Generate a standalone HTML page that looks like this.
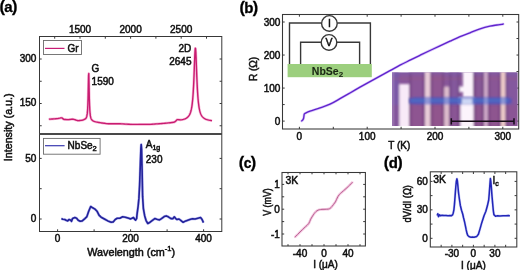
<!DOCTYPE html>
<html><head><meta charset="utf-8"><style>
html,body{margin:0;padding:0;background:#fff;}
body{width:520px;height:270px;overflow:hidden;}
svg{display:block;font-family:'Liberation Sans', Arial, Helvetica, sans-serif;}
</style></head><body>
<svg width="520" height="270" viewBox="0 0 520 270">
<defs><filter id="soft" x="0" y="0" width="100%" height="100%"><feGaussianBlur stdDeviation="0.33"/></filter></defs>
<rect width="520" height="270" fill="#fff"/>
<g filter="url(#soft)">
<text x="-0.6" y="11.6" font-size="16.3" font-weight="bold" fill="#000" stroke="#000" stroke-width="0.3" letter-spacing="-0.6"><tspan>(</tspan><tspan font-size="15">a</tspan><tspan>)</tspan></text>
<rect x="39.5" y="36.5" width="182.3" height="97" fill="none" stroke="#383838" stroke-width="1"/>
<rect x="39.5" y="134.5" width="182.3" height="97" fill="none" stroke="#383838" stroke-width="1"/>
<path d="M39.5,134H221.8" stroke="#505050" stroke-width="1.6"/>
<path d="M54.7,36.5v2.2M80,36.5v2.2M105.3,36.5v2.2M130.6,36.5v2.2M155.9,36.5v2.2M181.2,36.5v2.2M206.5,36.5v2.2" stroke="#383838" stroke-width="1" fill="none"/>
<text x="80" y="33" font-size="10" text-anchor="middle" font-weight="normal" fill="#111" stroke="#111" stroke-width="0.5" >1500</text>
<text x="130.6" y="33" font-size="10" text-anchor="middle" font-weight="normal" fill="#111" stroke="#111" stroke-width="0.5" >2000</text>
<text x="181.2" y="33" font-size="10" text-anchor="middle" font-weight="normal" fill="#111" stroke="#111" stroke-width="0.5" >2500</text>
<path d="M39.5,59h2.2M221.8,59h-2.2M39.5,81.25h2.2M221.8,81.25h-2.2M39.5,103.5h2.2M221.8,103.5h-2.2M39.5,125.75h2.2M221.8,125.75h-2.2" stroke="#383838" stroke-width="1" fill="none"/>
<text x="36.4" y="61.9" font-size="10" text-anchor="end" font-weight="normal" fill="#111" stroke="#111" stroke-width="0.5" >300</text>
<text x="36.4" y="106.3" font-size="10" text-anchor="end" font-weight="normal" fill="#111" stroke="#111" stroke-width="0.5" >150</text>
<rect x="43.5" y="40.5" width="38" height="14" fill="#fff" stroke="#6a6a6a" stroke-width="0.9"/>
<path d="M45,48.4H64.5" stroke="#c81d74" stroke-width="1.2"/>
<text x="67.5" y="51.6" font-size="10" text-anchor="start" font-weight="normal" fill="#111" stroke="#111" stroke-width="0.5" >Gr</text>
<path d="M48.8,119.18 L49.8,119.13 L50.8,119.08 L51.8,119.03 L52.8,118.98 L53.8,118.91 L54.8,118.82 L55.8,118.73 L56.8,118.65 L57.8,118.55 L58.8,118.38 L59.8,118.2 L60.8,117.92 L61.8,117.82 L62.8,118.6 L63.8,119.38 L64.8,119.5 L65.8,119.54 L66.8,119.58 L67.8,119.62 L68.8,119.58 L69.8,119.47 L70.8,119.35 L71.8,119.23 L72.8,119.15 L73.8,119.43 L74.8,119.72 L75.8,120.02 L76.8,120.35 L77.8,120.67 L78.8,120.65 L79.8,120.54 L80.8,120.42 L81.8,120.26 L82.8,120.05 L83.8,119.71 L84.8,119.19 L85.05,119 L85.3,118.85 L85.55,118.66 L85.8,118.42 L86.05,118.09 L86.3,117.65 L86.55,117.05 L86.8,116.2 L87.05,114.97 L87.3,113.15 L87.55,110.33 L87.8,105.81 L88.05,98.42 L88.3,87.14 L88.55,75.04 L88.8,73.53 L89.05,84.65 L89.3,96.7 L89.55,104.92 L89.8,110 L90.05,113.19 L90.3,115.27 L90.55,116.68 L90.8,117.69 L91.05,118.43 L91.3,118.99 L91.55,119.43 L91.8,119.79 L92.05,120.08 L92.3,120.32 L92.55,120.52 L92.8,120.7 L93.05,120.86 L94.05,121.32 L95.05,121.64 L96.05,121.9 L97.05,122.12 L98.05,122.32 L99.05,122.5 L100.05,122.66 L101.05,122.82 L102.05,122.97 L103.05,123.12 L104.05,123.27 L105.05,123.41 L106.05,123.56 L107.05,123.7 L108.05,123.72 L109.05,123.73 L110.05,123.73 L111.05,123.73 L112.05,123.74 L113.05,123.74 L114.05,123.74 L115.05,123.74 L116.05,123.74 L117.05,123.74 L118.05,123.74 L119.05,123.74 L120.05,123.77 L121.05,123.82 L122.05,123.88 L123.05,123.94 L124.05,123.99 L125.05,124.05 L126.05,124.11 L127.05,124.16 L128.05,124.22 L129.05,124.27 L130.05,124.33 L131.05,124.38 L132.05,124.44 L133.05,124.43 L134.05,124.43 L135.05,124.43 L136.05,124.43 L137.05,124.43 L138.05,124.43 L139.05,124.42 L140.05,124.42 L141.05,124.42 L142.05,124.42 L143.05,124.41 L144.05,124.41 L145.05,124.41 L146.05,124.4 L147.05,124.4 L148.05,124.4 L149.05,124.39 L150.05,124.36 L151.05,124.3 L152.05,124.23 L153.05,124.16 L154.05,124.09 L155.05,124.02 L156.05,123.95 L157.05,123.88 L158.05,123.8 L159.05,123.73 L160.05,123.66 L161.05,123.58 L162.05,123.51 L163.05,123.43 L164.05,123.35 L165.05,123.25 L166.05,123.15 L167.05,123.05 L168.05,122.94 L169.05,122.84 L170.05,122.73 L171.05,122.61 L172.05,122.5 L173.05,122.38 L174.05,122.25 L175.05,121.7 L176.05,120.82 L177.05,119.6 L178.05,119.65 L179.05,119.75 L180.05,119.84 L181.05,119.83 L182.05,119.67 L183.05,119.47 L184.05,119.21 L185.05,118.87 L186.05,118.34 L186.3,118.18 L186.55,118.01 L186.8,117.83 L187.05,117.63 L187.3,117.42 L187.55,117.2 L187.8,116.95 L188.05,116.69 L188.3,116.44 L188.55,116.15 L188.8,115.84 L189.05,115.49 L189.3,115.1 L189.55,114.66 L189.8,114.17 L190.05,113.62 L190.3,112.99 L190.55,112.28 L190.8,111.47 L191.05,110.54 L191.3,109.47 L191.55,108.23 L191.8,106.78 L192.05,105.1 L192.3,103.12 L192.55,100.79 L192.8,98.03 L193.05,94.76 L193.3,90.9 L193.55,86.37 L193.8,81.1 L194.05,75.12 L194.3,68.58 L194.55,61.87 L194.8,55.64 L195.05,50.79 L195.3,48.23 L195.55,48.53 L195.8,51.62 L196.05,56.84 L196.3,63.25 L196.55,69.98 L196.8,76.44 L197.05,82.3 L197.3,87.43 L197.55,91.84 L197.8,95.59 L198.05,98.76 L198.3,101.44 L198.55,103.71 L198.8,105.64 L199.05,107.29 L199.3,108.7 L199.55,109.92 L199.8,110.97 L200.05,111.89 L200.3,112.69 L200.55,113.4 L200.8,114.02 L201.05,114.57 L201.3,115.07 L201.55,115.51 L201.8,115.9 L202.05,116.26 L202.3,116.58 L202.55,116.87 L202.8,117.14 L203.05,117.38 L203.3,117.61 L203.55,117.82 L203.8,118.02 L204.05,118.2 L204.3,118.37 L204.55,118.52 L204.8,118.67 L205.05,118.81 L206.05,119.27 L207.05,119.62 L208.05,119.9 L209.05,120.13 L210.05,120.32 L211.05,120.48 L212.05,120.6" stroke="#f07ab4" stroke-width="2.6" fill="none" stroke-linejoin="round" opacity="0.55"/>
<path d="M48.8,119.18 L49.8,119.13 L50.8,119.08 L51.8,119.03 L52.8,118.98 L53.8,118.91 L54.8,118.82 L55.8,118.73 L56.8,118.65 L57.8,118.55 L58.8,118.38 L59.8,118.2 L60.8,117.92 L61.8,117.82 L62.8,118.6 L63.8,119.38 L64.8,119.5 L65.8,119.54 L66.8,119.58 L67.8,119.62 L68.8,119.58 L69.8,119.47 L70.8,119.35 L71.8,119.23 L72.8,119.15 L73.8,119.43 L74.8,119.72 L75.8,120.02 L76.8,120.35 L77.8,120.67 L78.8,120.65 L79.8,120.54 L80.8,120.42 L81.8,120.26 L82.8,120.05 L83.8,119.71 L84.8,119.19 L85.05,119 L85.3,118.85 L85.55,118.66 L85.8,118.42 L86.05,118.09 L86.3,117.65 L86.55,117.05 L86.8,116.2 L87.05,114.97 L87.3,113.15 L87.55,110.33 L87.8,105.81 L88.05,98.42 L88.3,87.14 L88.55,75.04 L88.8,73.53 L89.05,84.65 L89.3,96.7 L89.55,104.92 L89.8,110 L90.05,113.19 L90.3,115.27 L90.55,116.68 L90.8,117.69 L91.05,118.43 L91.3,118.99 L91.55,119.43 L91.8,119.79 L92.05,120.08 L92.3,120.32 L92.55,120.52 L92.8,120.7 L93.05,120.86 L94.05,121.32 L95.05,121.64 L96.05,121.9 L97.05,122.12 L98.05,122.32 L99.05,122.5 L100.05,122.66 L101.05,122.82 L102.05,122.97 L103.05,123.12 L104.05,123.27 L105.05,123.41 L106.05,123.56 L107.05,123.7 L108.05,123.72 L109.05,123.73 L110.05,123.73 L111.05,123.73 L112.05,123.74 L113.05,123.74 L114.05,123.74 L115.05,123.74 L116.05,123.74 L117.05,123.74 L118.05,123.74 L119.05,123.74 L120.05,123.77 L121.05,123.82 L122.05,123.88 L123.05,123.94 L124.05,123.99 L125.05,124.05 L126.05,124.11 L127.05,124.16 L128.05,124.22 L129.05,124.27 L130.05,124.33 L131.05,124.38 L132.05,124.44 L133.05,124.43 L134.05,124.43 L135.05,124.43 L136.05,124.43 L137.05,124.43 L138.05,124.43 L139.05,124.42 L140.05,124.42 L141.05,124.42 L142.05,124.42 L143.05,124.41 L144.05,124.41 L145.05,124.41 L146.05,124.4 L147.05,124.4 L148.05,124.4 L149.05,124.39 L150.05,124.36 L151.05,124.3 L152.05,124.23 L153.05,124.16 L154.05,124.09 L155.05,124.02 L156.05,123.95 L157.05,123.88 L158.05,123.8 L159.05,123.73 L160.05,123.66 L161.05,123.58 L162.05,123.51 L163.05,123.43 L164.05,123.35 L165.05,123.25 L166.05,123.15 L167.05,123.05 L168.05,122.94 L169.05,122.84 L170.05,122.73 L171.05,122.61 L172.05,122.5 L173.05,122.38 L174.05,122.25 L175.05,121.7 L176.05,120.82 L177.05,119.6 L178.05,119.65 L179.05,119.75 L180.05,119.84 L181.05,119.83 L182.05,119.67 L183.05,119.47 L184.05,119.21 L185.05,118.87 L186.05,118.34 L186.3,118.18 L186.55,118.01 L186.8,117.83 L187.05,117.63 L187.3,117.42 L187.55,117.2 L187.8,116.95 L188.05,116.69 L188.3,116.44 L188.55,116.15 L188.8,115.84 L189.05,115.49 L189.3,115.1 L189.55,114.66 L189.8,114.17 L190.05,113.62 L190.3,112.99 L190.55,112.28 L190.8,111.47 L191.05,110.54 L191.3,109.47 L191.55,108.23 L191.8,106.78 L192.05,105.1 L192.3,103.12 L192.55,100.79 L192.8,98.03 L193.05,94.76 L193.3,90.9 L193.55,86.37 L193.8,81.1 L194.05,75.12 L194.3,68.58 L194.55,61.87 L194.8,55.64 L195.05,50.79 L195.3,48.23 L195.55,48.53 L195.8,51.62 L196.05,56.84 L196.3,63.25 L196.55,69.98 L196.8,76.44 L197.05,82.3 L197.3,87.43 L197.55,91.84 L197.8,95.59 L198.05,98.76 L198.3,101.44 L198.55,103.71 L198.8,105.64 L199.05,107.29 L199.3,108.7 L199.55,109.92 L199.8,110.97 L200.05,111.89 L200.3,112.69 L200.55,113.4 L200.8,114.02 L201.05,114.57 L201.3,115.07 L201.55,115.51 L201.8,115.9 L202.05,116.26 L202.3,116.58 L202.55,116.87 L202.8,117.14 L203.05,117.38 L203.3,117.61 L203.55,117.82 L203.8,118.02 L204.05,118.2 L204.3,118.37 L204.55,118.52 L204.8,118.67 L205.05,118.81 L206.05,119.27 L207.05,119.62 L208.05,119.9 L209.05,120.13 L210.05,120.32 L211.05,120.48 L212.05,120.6" stroke="#c81a70" stroke-width="1.35" fill="none" stroke-linejoin="round"/>
<text x="91.6" y="71.6" font-size="10" text-anchor="start" font-weight="normal" fill="#111" stroke="#111" stroke-width="0.5" >G</text>
<text x="91.6" y="84.8" font-size="10" text-anchor="start" font-weight="normal" fill="#111" stroke="#111" stroke-width="0.5" >1590</text>
<text x="191.3" y="52.2" font-size="10" text-anchor="end" font-weight="normal" fill="#111" stroke="#111" stroke-width="0.5" >2D</text>
<text x="191.5" y="65.3" font-size="10" text-anchor="end" font-weight="normal" fill="#111" stroke="#111" stroke-width="0.5" >2645</text>
<path d="M57.6,231.5v-2.2M94.1,231.5v-2.2M130.6,231.5v-2.2M167.1,231.5v-2.2M203.6,231.5v-2.2" stroke="#383838" stroke-width="1" fill="none"/>
<text x="57.6" y="242.2" font-size="10" text-anchor="middle" font-weight="normal" fill="#111" stroke="#111" stroke-width="0.5" >0</text>
<text x="130.6" y="242.2" font-size="10" text-anchor="middle" font-weight="normal" fill="#111" stroke="#111" stroke-width="0.5" >200</text>
<text x="203.6" y="242.2" font-size="10" text-anchor="middle" font-weight="normal" fill="#111" stroke="#111" stroke-width="0.5" >400</text>
<path d="M39.5,219h2.2M221.8,219h-2.2M39.5,188.7h2.2M221.8,188.7h-2.2M39.5,158.4h2.2M221.8,158.4h-2.2" stroke="#383838" stroke-width="1" fill="none"/>
<text x="36.4" y="222" font-size="10" text-anchor="end" font-weight="normal" fill="#111" stroke="#111" stroke-width="0.5" >0</text>
<text x="36.4" y="161.6" font-size="10" text-anchor="end" font-weight="normal" fill="#111" stroke="#111" stroke-width="0.5" >50</text>
<rect x="43.5" y="138.4" width="56.6" height="15.8" fill="#fff" stroke="#6a6a6a" stroke-width="0.9"/>
<path d="M45,145.7H64.6" stroke="#3a3ab0" stroke-width="1.2"/>
<text x="67.6" y="149.2" font-size="10" text-anchor="start" font-weight="normal" fill="#111" stroke="#111" stroke-width="0.5" >NbSe<tspan font-size="7.6" dy="2.2">2</tspan></text>
<path d="M61.4,218.6 L62.7,219.2 L64.7,219.5 L66.1,220.3 L67.7,220.9 L69,219.5 L70.8,220.3 L71.5,221.3 L72.5,218.6 L74.8,217.6 L76.6,218.2 L78.2,220.3 L80.2,221.3 L82.2,220.9 L84.9,218.6 L86.9,216.6 L88.7,211.2 L90.7,206.5 L92.7,207.8 L95,209.1 L97,211.2 L99,215.2 L101.1,217.2 L104.4,219 L107.8,220.9 L111.2,222.2 L113.2,221.9 L115.2,219.5 L117.2,218.3 L119.9,218.2 L122.6,216.8 L125.3,217.2 L128.8,218.3 L130.4,218.9 L131.9,218.3 L133.5,217.5 L134.5,219.1 L135.6,220.1 L136.6,218.6 L137.1,213.9 L138.2,205.6 L138.9,198.4 L139.6,185.4 L140.3,165.4 L140.9,148.4 L141.2,144.6 L141.6,149.4 L142.1,170.4 L142.6,196.4 L143.4,208.7 L144.7,215.9 L146.1,220.6 L147.8,223.5 L150.1,222.2 L152.1,220.6 L154.8,218.6 L156.8,219.2 L159.5,219.9 L161.5,218.6 L164.2,216.6 L166.2,215.9 L168.3,216.8 L171,218.6 L173,218.6 L174.3,216.8 L175.7,218.6 L177,219.5 L179,219 L181,220.6 L183.1,222.3 L185.8,220.9 L189.8,219.6 L192.5,218.8 L195.2,219 L197.9,218.3 L200.6,217.6 L201.9,219.2 L203.5,222.6" stroke="#6a6ae0" stroke-width="2.6" fill="none" stroke-linejoin="round" opacity="0.5"/>
<path d="M61.4,218.6 L62.7,219.2 L64.7,219.5 L66.1,220.3 L67.7,220.9 L69,219.5 L70.8,220.3 L71.5,221.3 L72.5,218.6 L74.8,217.6 L76.6,218.2 L78.2,220.3 L80.2,221.3 L82.2,220.9 L84.9,218.6 L86.9,216.6 L88.7,211.2 L90.7,206.5 L92.7,207.8 L95,209.1 L97,211.2 L99,215.2 L101.1,217.2 L104.4,219 L107.8,220.9 L111.2,222.2 L113.2,221.9 L115.2,219.5 L117.2,218.3 L119.9,218.2 L122.6,216.8 L125.3,217.2 L128.8,218.3 L130.4,218.9 L131.9,218.3 L133.5,217.5 L134.5,219.1 L135.6,220.1 L136.6,218.6 L137.1,213.9 L138.2,205.6 L138.9,198.4 L139.6,185.4 L140.3,165.4 L140.9,148.4 L141.2,144.6 L141.6,149.4 L142.1,170.4 L142.6,196.4 L143.4,208.7 L144.7,215.9 L146.1,220.6 L147.8,223.5 L150.1,222.2 L152.1,220.6 L154.8,218.6 L156.8,219.2 L159.5,219.9 L161.5,218.6 L164.2,216.6 L166.2,215.9 L168.3,216.8 L171,218.6 L173,218.6 L174.3,216.8 L175.7,218.6 L177,219.5 L179,219 L181,220.6 L183.1,222.3 L185.8,220.9 L189.8,219.6 L192.5,218.8 L195.2,219 L197.9,218.3 L200.6,217.6 L201.9,219.2 L203.5,222.6" stroke="#22229a" stroke-width="1.6" fill="none" stroke-linejoin="round"/>
<text x="145.8" y="147.6" font-size="10" text-anchor="start" font-weight="normal" fill="#111" stroke="#111" stroke-width="0.5" >A<tspan font-size="7" dy="2.6">1g</tspan></text>
<text x="145.8" y="162.8" font-size="10" text-anchor="start" font-weight="normal" fill="#111" stroke="#111" stroke-width="0.5" >230</text>
<text x="131.2" y="255.5" font-size="10.8" text-anchor="middle" font-weight="normal" fill="#111" stroke="#111" stroke-width="0.5" >Wavelength (cm<tspan font-size="7.5" dy="-4.2">-1</tspan><tspan dy="4.2">)</tspan></text>
<text x="12.5" y="127.3" font-size="10.7" text-anchor="middle" font-weight="normal" fill="#111" stroke="#111" stroke-width="0.5" transform="rotate(-90 12.5 127.3)">Intensity (a.u.)</text>
<text x="239.4" y="12.8" font-size="16.3" font-weight="bold" fill="#000" stroke="#000" stroke-width="0.3" letter-spacing="-0.6"><tspan>(</tspan><tspan font-size="15">b</tspan><tspan>)</tspan></text>
<rect x="282.5" y="14.5" width="236.2" height="114.5" fill="none" stroke="#383838" stroke-width="1.05"/>
<path d="M299.4,129v-2.2M299.4,14.5v2.2M367.2,129v-2.2M367.2,14.5v2.2M401.1,129v-2.2M401.1,14.5v2.2M435,129v-2.2M435,14.5v2.2M468.9,129v-2.2M468.9,14.5v2.2M502.8,129v-2.2M502.8,14.5v2.2" stroke="#383838" stroke-width="1" fill="none"/>
<path d="M333.3,129v-2.2" stroke="#383838" stroke-width="1"/>
<path d="M282.5,121.1h2.2M518.7,121.1h-2.2M282.5,104.58h2.2M518.7,104.58h-2.2M282.5,88.07h2.2M518.7,88.07h-2.2M282.5,55.04h2.2M518.7,55.04h-2.2M282.5,22.01h2.2M518.7,22.01h-2.2" stroke="#383838" stroke-width="1" fill="none"/>
<path d="M518.7,71.56h-2.2" stroke="#383838" stroke-width="1"/>
<path d="M518.7,38.53h-2.2" stroke="#383838" stroke-width="1"/>
<text x="280.4" y="124.7" font-size="10" text-anchor="end" font-weight="normal" fill="#111" stroke="#111" stroke-width="0.5" >0</text>
<text x="280.4" y="91.67" font-size="10" text-anchor="end" font-weight="normal" fill="#111" stroke="#111" stroke-width="0.5" >100</text>
<text x="280.4" y="58.64" font-size="10" text-anchor="end" font-weight="normal" fill="#111" stroke="#111" stroke-width="0.5" >200</text>
<text x="280.4" y="25.61" font-size="10" text-anchor="end" font-weight="normal" fill="#111" stroke="#111" stroke-width="0.5" >300</text>
<text x="299.4" y="139.6" font-size="10" text-anchor="middle" font-weight="normal" fill="#111" stroke="#111" stroke-width="0.5" >0</text>
<text x="367.2" y="139.6" font-size="10" text-anchor="middle" font-weight="normal" fill="#111" stroke="#111" stroke-width="0.5" >100</text>
<text x="435" y="139.6" font-size="10" text-anchor="middle" font-weight="normal" fill="#111" stroke="#111" stroke-width="0.5" >200</text>
<text x="502.8" y="139.6" font-size="10" text-anchor="middle" font-weight="normal" fill="#111" stroke="#111" stroke-width="0.5" >300</text>
<text x="388.2" y="149.4" font-size="10" text-anchor="start" font-weight="normal" fill="#111" stroke="#111" stroke-width="0.5" >T (K)</text>
<text x="257" y="68.9" font-size="10" text-anchor="middle" font-weight="normal" fill="#111" stroke="#111" stroke-width="0.5" transform="rotate(-90 257 68.9)">R (Ω)</text>
<g stroke="#383838" stroke-width="1.4" fill="none"><path d="M289.5,64V23H321.6M337.2,23H370.4V64"/><path d="M300.6,64V42.2H321.2M336.8,42.2H359.6V64"/><circle cx="329.4" cy="23.4" r="7.8" fill="#fff"/><circle cx="329" cy="42.4" r="7.8" fill="#fff"/></g>
<text x="329.4" y="27.2" font-size="10.5" text-anchor="middle" font-weight="normal" fill="#111" stroke="#111" stroke-width="0.5" >I</text>
<text x="329" y="46.2" font-size="10.5" text-anchor="middle" font-weight="normal" fill="#111" stroke="#111" stroke-width="0.5" >V</text>
<rect x="287.6" y="64" width="84.2" height="13.2" fill="#9ccf7e"/>
<text x="327.5" y="74.6" font-size="10.5" text-anchor="middle" font-weight="bold" fill="#1a2614" stroke="#1a2614" stroke-width="0.1" >NbSe<tspan font-size="8" dy="2.2">2</tspan></text>
<defs>
<filter id="bl" x="-5%" y="-5%" width="110%" height="110%"><feGaussianBlur stdDeviation="1.05"/></filter>
<filter id="bl2" x="-20%" y="-80%" width="140%" height="260%"><feGaussianBlur stdDeviation="1.0"/></filter>
<clipPath id="cp"><rect x="392" y="72.6" width="125.4" height="53.4"/></clipPath>
</defs>
<g clip-path="url(#cp)">
<rect x="388" y="70" width="134" height="60" fill="#88589a"/>
<g filter="url(#bl)">
<rect x="388" y="70" width="11.2" height="60" fill="#7a58a6"/>
<rect x="409" y="70" width="15.5" height="60" fill="#8a5698"/>
<rect x="430" y="70" width="14.2" height="60" fill="#8e5692"/>
<rect x="449" y="70" width="11" height="60" fill="#84589c"/>
<rect x="473" y="70" width="11" height="60" fill="#885896"/>
<rect x="488" y="70" width="12.8" height="60" fill="#8a5696"/>
<rect x="505.5" y="70" width="14" height="60" fill="#84589e"/>
<rect x="388" y="105" width="134" height="25" fill="#985080" opacity="0.3"/>
<rect x="409.2" y="70" width="2.6" height="60" fill="#5e3470" opacity="0.35"/>
<rect x="422.4" y="70" width="2.4" height="60" fill="#5e3470" opacity="0.35"/>
<rect x="430.4" y="70" width="2.6" height="60" fill="#5e3470" opacity="0.35"/>
<rect x="441.8" y="70" width="2.4" height="60" fill="#5e3470" opacity="0.35"/>
<rect x="449.1" y="70" width="2.4" height="60" fill="#5e3470" opacity="0.35"/>
<rect x="457.2" y="70" width="2.4" height="60" fill="#5e3470" opacity="0.35"/>
<rect x="473.6" y="70" width="2.6" height="60" fill="#5e3470" opacity="0.35"/>
<rect x="481.6" y="70" width="2.4" height="60" fill="#5e3470" opacity="0.35"/>
<rect x="488" y="70" width="2.4" height="60" fill="#5e3470" opacity="0.35"/>
<rect x="498.4" y="70" width="2.4" height="60" fill="#5e3470" opacity="0.35"/>
<rect x="505.6" y="70" width="2.4" height="60" fill="#5e3470" opacity="0.35"/>
<rect x="388" y="78.2" width="134" height="1.2" fill="#a05878" opacity="0.45"/>
<rect x="388" y="70" width="134" height="4.5" fill="#7a60b0" opacity="0.45"/>
<rect x="399.3" y="84" width="9.8" height="50" rx="1.2" fill="#f8eaf8"/>
<rect x="392" y="70" width="1.3" height="60" fill="#d0b8e0" opacity="0.6"/>
<rect x="424.9" y="68" width="5.4" height="62" fill="#e8ccd8"/>
<rect x="444.2" y="86.2" width="4.8" height="50" rx="2" fill="#dcbccc"/>
<rect x="463" y="68" width="10" height="29" fill="#fcf4fc"/>
<rect x="459.5" y="86.5" width="13.5" height="5.5" fill="#fcf4fc"/>
<rect x="460.4" y="103.5" width="13.2" height="26" fill="#fcf4fc"/>
<rect x="458.5" y="97.5" width="16" height="6" fill="#d4daf6"/>
<rect x="484" y="68" width="3.8" height="62" fill="#cca8c8"/>
<rect x="500.9" y="68" width="4.5" height="62" fill="#eccac8"/>
</g>
<g filter="url(#bl2)">
<path d="M409,98.2L415,97.2H507L511.5,98.4V103.2L507,104.2H415L409,103.4Z" fill="#4a56c0" opacity="0.85"/>
<rect x="411" y="99.3" width="97" height="2.4" fill="#4a7cc8" opacity="0.65"/>
<rect x="424.9" y="97.6" width="5.4" height="7" fill="#c8c0e8" opacity="0.5"/>
<rect x="444.2" y="97.6" width="4.8" height="7" fill="#c8c0e8" opacity="0.45"/>
<rect x="462" y="98.4" width="10.4" height="5.6" fill="#dae2fa" opacity="0.9"/>
<rect x="484" y="97.6" width="3.8" height="7" fill="#c0c0ec" opacity="0.45"/>
<rect x="500.9" y="97.6" width="4.5" height="7" fill="#d0c8ec" opacity="0.45"/>
</g>
</g>
<path d="M451.3,121.3H514M451.3,118.2V124.6M514,118.2V124.6" stroke="#150a18" stroke-width="1.5" fill="none"/>
<path d="M301.6,120.9 C301.8,120.73 302.47,120.35 302.8,119.9 C303.13,119.45 303.4,118.92 303.6,118.2 C303.8,117.48 303.88,116.3 304,115.6 C304.12,114.9 304.05,114.4 304.3,114 C304.55,113.6 304.55,113.67 305.5,113.2 C306.45,112.73 307.58,112.08 310,111.2 C312.42,110.32 316.67,109.07 320,107.9 C323.33,106.73 326.67,105.73 330,104.2 C333.33,102.67 336.67,100.57 340,98.7 C343.33,96.83 346.67,94.92 350,93 C353.33,91.08 356.67,89.1 360,87.2 C363.33,85.3 366.67,83.45 370,81.6 C373.33,79.75 376.67,77.92 380,76.1 C383.33,74.28 386.67,72.52 390,70.7 C393.33,68.88 396.67,66.95 400,65.2 C403.33,63.45 406.67,61.85 410,60.2 C413.33,58.55 416.67,56.92 420,55.3 C423.33,53.68 426.67,52.08 430,50.5 C433.33,48.92 436.67,47.35 440,45.8 C443.33,44.25 446.67,42.72 450,41.2 C453.33,39.68 456.67,38.1 460,36.7 C463.33,35.3 466.67,34.1 470,32.8 C473.33,31.5 476.67,30.02 480,28.9 C483.33,27.78 487.17,26.75 490,26.1 C492.83,25.45 495,25.3 497,25 C499,24.7 500.97,24.47 502,24.3 C503.03,24.13 503,24.05 503.2,24" stroke="#b088f8" stroke-width="2.6" fill="none" stroke-linejoin="round" stroke-linecap="round" opacity="0.5"/>
<path d="M301.6,120.9 C301.8,120.73 302.47,120.35 302.8,119.9 C303.13,119.45 303.4,118.92 303.6,118.2 C303.8,117.48 303.88,116.3 304,115.6 C304.12,114.9 304.05,114.4 304.3,114 C304.55,113.6 304.55,113.67 305.5,113.2 C306.45,112.73 307.58,112.08 310,111.2 C312.42,110.32 316.67,109.07 320,107.9 C323.33,106.73 326.67,105.73 330,104.2 C333.33,102.67 336.67,100.57 340,98.7 C343.33,96.83 346.67,94.92 350,93 C353.33,91.08 356.67,89.1 360,87.2 C363.33,85.3 366.67,83.45 370,81.6 C373.33,79.75 376.67,77.92 380,76.1 C383.33,74.28 386.67,72.52 390,70.7 C393.33,68.88 396.67,66.95 400,65.2 C403.33,63.45 406.67,61.85 410,60.2 C413.33,58.55 416.67,56.92 420,55.3 C423.33,53.68 426.67,52.08 430,50.5 C433.33,48.92 436.67,47.35 440,45.8 C443.33,44.25 446.67,42.72 450,41.2 C453.33,39.68 456.67,38.1 460,36.7 C463.33,35.3 466.67,34.1 470,32.8 C473.33,31.5 476.67,30.02 480,28.9 C483.33,27.78 487.17,26.75 490,26.1 C492.83,25.45 495,25.3 497,25 C499,24.7 500.97,24.47 502,24.3 C503.03,24.13 503,24.05 503.2,24" stroke="#6024cc" stroke-width="1.35" fill="none" stroke-linejoin="round" stroke-linecap="round"/>
<text x="238.8" y="168.2" font-size="16.3" font-weight="bold" fill="#000" stroke="#000" stroke-width="0.3" letter-spacing="-0.6"><tspan>(</tspan><tspan font-size="13.8">c</tspan><tspan>)</tspan></text>
<rect x="282" y="172.5" width="83.4" height="73.5" fill="none" stroke="#383838" stroke-width="1.05"/>
<path d="M288,246v-1.8M288,172.5v1.8M300,246v-1.8M300,172.5v1.8M312,246v-1.8M312,172.5v1.8M324,246v-1.8M324,172.5v1.8M336,246v-1.8M336,172.5v1.8M348,246v-1.8M348,172.5v1.8M360,246v-1.8M360,172.5v1.8" stroke="#383838" stroke-width="1" fill="none"/>
<path d="M282,234h2.2M365.4,234h-2.2M282,221.6h2.2M365.4,221.6h-2.2M282,209.2h2.2M365.4,209.2h-2.2M282,196.8h2.2M365.4,196.8h-2.2M282,184.4h2.2M365.4,184.4h-2.2" stroke="#383838" stroke-width="1" fill="none"/>
<text x="279.8" y="188" font-size="10" text-anchor="end" font-weight="normal" fill="#111" stroke="#111" stroke-width="0.5" >1</text>
<text x="279.8" y="212.8" font-size="10" text-anchor="end" font-weight="normal" fill="#111" stroke="#111" stroke-width="0.5" >0</text>
<text x="279.8" y="237.6" font-size="10" text-anchor="end" font-weight="normal" fill="#111" stroke="#111" stroke-width="0.5" >-1</text>
<text x="300" y="256.6" font-size="10" text-anchor="middle" font-weight="normal" fill="#111" stroke="#111" stroke-width="0.5" >-40</text>
<text x="324" y="256.6" font-size="10" text-anchor="middle" font-weight="normal" fill="#111" stroke="#111" stroke-width="0.5" >0</text>
<text x="348" y="256.6" font-size="10" text-anchor="middle" font-weight="normal" fill="#111" stroke="#111" stroke-width="0.5" >40</text>
<text x="325.5" y="268" font-size="10" text-anchor="middle" font-weight="normal" fill="#111" stroke="#111" stroke-width="0.5" >I (μA)</text>
<text x="285.5" y="184.3" font-size="10.4" text-anchor="start" font-weight="normal" fill="#111" stroke="#111" stroke-width="0.5" >3K</text>
<text x="271.2" y="202" font-size="10" text-anchor="middle" font-weight="normal" fill="#111" stroke="#111" stroke-width="0.5" textLength="27.5" lengthAdjust="spacingAndGlyphs" transform="rotate(-90 271.2 202)">V (mV)</text>
<path d="M294.7,237.4 C295.15,236.95 296.52,235.6 297.4,234.7 C298.28,233.8 299.12,232.88 300,232 C300.88,231.12 301.82,230.25 302.7,229.4 C303.58,228.55 304.3,227.87 305.3,226.9 C306.3,225.93 307.8,224.88 308.7,223.6 C309.6,222.32 309.93,220.65 310.7,219.2 C311.47,217.75 312.55,216.03 313.3,214.9 C314.05,213.77 314.6,213.08 315.2,212.4 C315.8,211.72 316.22,211.25 316.9,210.8 C317.58,210.35 318.45,209.93 319.3,209.7 C320.15,209.47 321.05,209.47 322,209.4 C322.95,209.33 323.95,209.35 325,209.3 C326.05,209.25 327.43,209.27 328.3,209.1 C329.17,208.93 329.62,208.7 330.2,208.3 C330.78,207.9 331.23,207.35 331.8,206.7 C332.37,206.05 333,205.2 333.6,204.4 C334.2,203.6 334.9,202.75 335.4,201.9 C335.9,201.05 336.2,200.15 336.6,199.3 C337,198.45 337.4,197.52 337.8,196.8 C338.2,196.08 338.58,195.53 339,195 C339.42,194.47 339.52,194.33 340.3,193.6 C341.08,192.87 342.35,191.8 343.7,190.6 C345.05,189.4 346.88,187.85 348.4,186.4 C349.92,184.95 352.07,182.65 352.8,181.9" stroke="#f0b8d8" stroke-width="2.6" fill="none" opacity="0.85"/>
<path d="M294.7,237.4 C295.15,236.95 296.52,235.6 297.4,234.7 C298.28,233.8 299.12,232.88 300,232 C300.88,231.12 301.82,230.25 302.7,229.4 C303.58,228.55 304.3,227.87 305.3,226.9 C306.3,225.93 307.8,224.88 308.7,223.6 C309.6,222.32 309.93,220.65 310.7,219.2 C311.47,217.75 312.55,216.03 313.3,214.9 C314.05,213.77 314.6,213.08 315.2,212.4 C315.8,211.72 316.22,211.25 316.9,210.8 C317.58,210.35 318.45,209.93 319.3,209.7 C320.15,209.47 321.05,209.47 322,209.4 C322.95,209.33 323.95,209.35 325,209.3 C326.05,209.25 327.43,209.27 328.3,209.1 C329.17,208.93 329.62,208.7 330.2,208.3 C330.78,207.9 331.23,207.35 331.8,206.7 C332.37,206.05 333,205.2 333.6,204.4 C334.2,203.6 334.9,202.75 335.4,201.9 C335.9,201.05 336.2,200.15 336.6,199.3 C337,198.45 337.4,197.52 337.8,196.8 C338.2,196.08 338.58,195.53 339,195 C339.42,194.47 339.52,194.33 340.3,193.6 C341.08,192.87 342.35,191.8 343.7,190.6 C345.05,189.4 346.88,187.85 348.4,186.4 C349.92,184.95 352.07,182.65 352.8,181.9" stroke="#b86492" stroke-width="1.0" fill="none"/>
<text x="383.8" y="168.2" font-size="16.3" font-weight="bold" fill="#000" stroke="#000" stroke-width="0.3" letter-spacing="-0.6"><tspan>(</tspan><tspan font-size="15">d</tspan><tspan>)</tspan></text>
<rect x="430.3" y="171.8" width="86.5" height="75.2" fill="none" stroke="#383838" stroke-width="1.05"/>
<path d="M441.15,247v-2.2M441.15,171.8v2.2M451.9,247v-2.2M451.9,171.8v2.2M462.65,247v-2.2M462.65,171.8v2.2M473.4,247v-2.2M473.4,171.8v2.2M484.15,247v-2.2M484.15,171.8v2.2M494.9,247v-2.2M494.9,171.8v2.2M505.65,247v-2.2M505.65,171.8v2.2" stroke="#383838" stroke-width="1" fill="none"/>
<path d="M430.3,238.3h2.2M516.8,238.3h-2.2M430.3,224.08h2.2M516.8,224.08h-2.2M430.3,209.85h2.2M516.8,209.85h-2.2M430.3,195.62h2.2M516.8,195.62h-2.2M430.3,181.4h2.2M516.8,181.4h-2.2" stroke="#383838" stroke-width="1" fill="none"/>
<text x="427.8" y="185" font-size="10" text-anchor="end" font-weight="normal" fill="#111" stroke="#111" stroke-width="0.5" >60</text>
<text x="427.8" y="213.45" font-size="10" text-anchor="end" font-weight="normal" fill="#111" stroke="#111" stroke-width="0.5" >30</text>
<text x="427.8" y="241.9" font-size="10" text-anchor="end" font-weight="normal" fill="#111" stroke="#111" stroke-width="0.5" >0</text>
<text x="451.9" y="257.4" font-size="10" text-anchor="middle" font-weight="normal" fill="#111" stroke="#111" stroke-width="0.5" >-30</text>
<text x="473.4" y="257.4" font-size="10" text-anchor="middle" font-weight="normal" fill="#111" stroke="#111" stroke-width="0.5" >0</text>
<text x="494.9" y="257.4" font-size="10" text-anchor="middle" font-weight="normal" fill="#111" stroke="#111" stroke-width="0.5" >30</text>
<text x="473.4" y="269" font-size="10" text-anchor="middle" font-weight="normal" fill="#111" stroke="#111" stroke-width="0.5" >I (μA)</text>
<text x="433.2" y="183" font-size="10.4" text-anchor="start" font-weight="normal" fill="#111" stroke="#111" stroke-width="0.5" >3K</text>
<text x="492.4" y="183.6" font-size="10" text-anchor="start" font-weight="normal" fill="#111" stroke="#111" stroke-width="0.5" >I<tspan font-size="7" dy="2.6">c</tspan></text>
<text x="411.5" y="203.8" font-size="10" text-anchor="middle" font-weight="normal" fill="#111" stroke="#111" stroke-width="0.5" textLength="37.5" lengthAdjust="spacingAndGlyphs" transform="rotate(-90 411.5 203.8)">dV/dI (Ω)</text>
<path d="M437.2,215.6 L437.8,213.8 L438.5,216.6 L439.4,214.8 L440.5,215.7 L442,215.3 L444,215.6 L446,215.4 L448,215.7 L450,215.6 L451.5,215.7 L452.5,214.9 L453.2,213.2 L453.9,209.8 L454.5,204 L455.1,196 L455.7,188 L456.3,181.5 L456.9,178.8 L457.4,181 L457.9,186 L458.5,192.5 L459.3,198.5 L460.3,205.2 L461.5,210.2 L462.7,214 L463.6,218 L464.5,221.6 L465.4,225.8 L466.2,229.9 L467,233.4 L467.8,235.5 L469.4,236.8 L471,237.2 L472.5,237 L474,237.2 L476.8,236.4 L478.4,234.3 L480.1,228.6 L481.7,222.9 L484.1,215.5 L485.8,211.5 L487.4,205.8 L488.7,200 L489.3,193 L489.9,184.5 L490.4,178.6 L490.9,182 L491.4,188 L492,196 L492.7,204 L493.3,210.5 L493.9,214.6 L495.5,216.2 L497.5,215.8 L500,216 L503,215.7 L506,215.8 L508.6,215.5 L509.8,215.9" stroke="#6a78f0" stroke-width="2.6" fill="none" stroke-linejoin="round" opacity="0.3"/>
<path d="M437.2,215.6 L437.8,213.8 L438.5,216.6 L439.4,214.8 L440.5,215.7 L442,215.3 L444,215.6 L446,215.4 L448,215.7 L450,215.6 L451.5,215.7 L452.5,214.9 L453.2,213.2 L453.9,209.8 L454.5,204 L455.1,196 L455.7,188 L456.3,181.5 L456.9,178.8 L457.4,181 L457.9,186 L458.5,192.5 L459.3,198.5 L460.3,205.2 L461.5,210.2 L462.7,214 L463.6,218 L464.5,221.6 L465.4,225.8 L466.2,229.9 L467,233.4 L467.8,235.5 L469.4,236.8 L471,237.2 L472.5,237 L474,237.2 L476.8,236.4 L478.4,234.3 L480.1,228.6 L481.7,222.9 L484.1,215.5 L485.8,211.5 L487.4,205.8 L488.7,200 L489.3,193 L489.9,184.5 L490.4,178.6 L490.9,182 L491.4,188 L492,196 L492.7,204 L493.3,210.5 L493.9,214.6 L495.5,216.2 L497.5,215.8 L500,216 L503,215.7 L506,215.8 L508.6,215.5 L509.8,215.9" stroke="#2428b8" stroke-width="1.55" fill="none" stroke-linejoin="round"/>
</g>
</svg>
</body></html>
